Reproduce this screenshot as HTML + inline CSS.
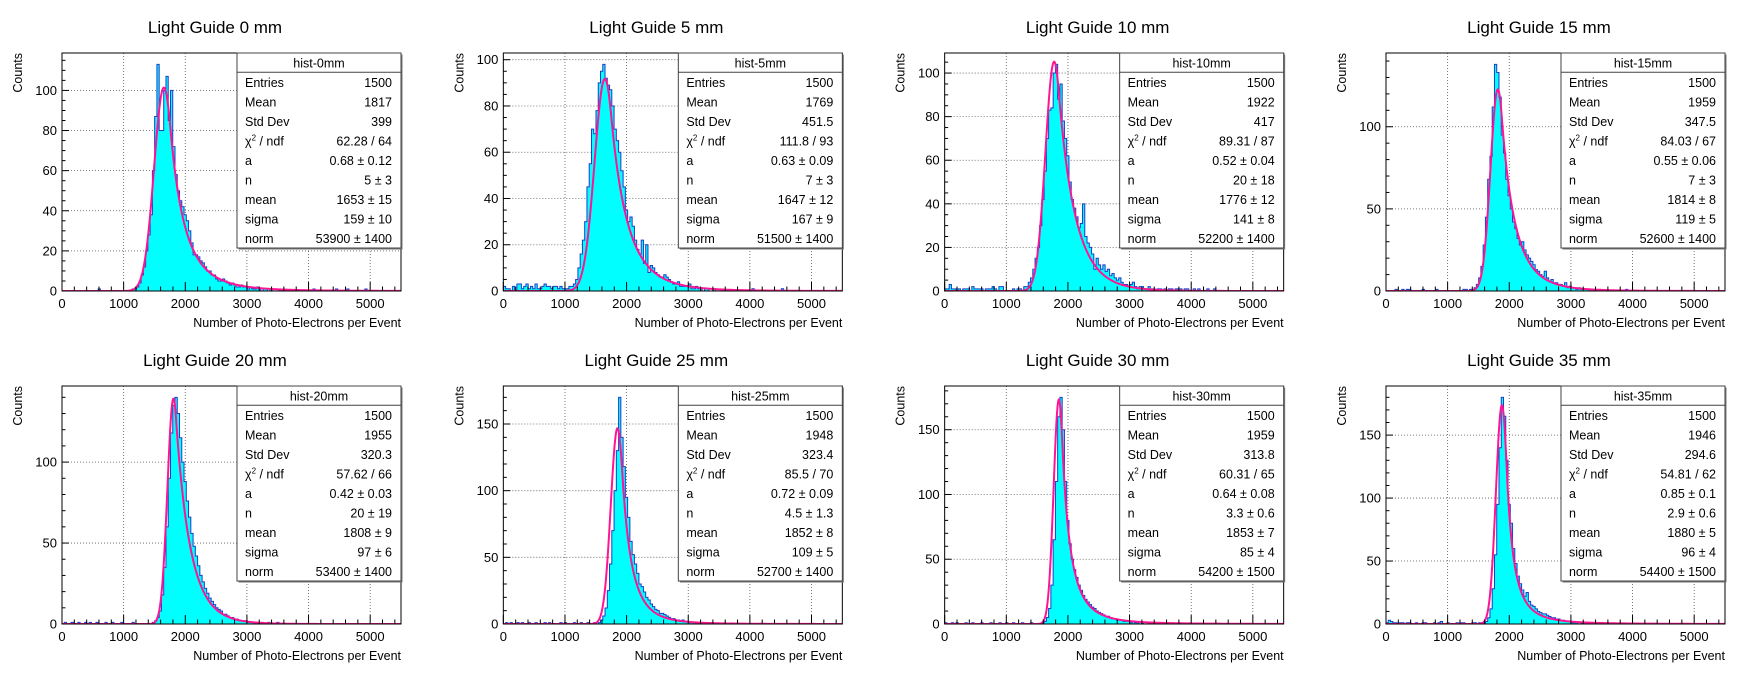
<!DOCTYPE html>
<html><head><meta charset="utf-8">
<style>
html,body{margin:0;padding:0;background:#fff;}
svg{display:block;font-family:"Liberation Sans",Arial,sans-serif;}
</style></head>
<body>
<svg id="fig" width="1757" height="676" viewBox="0 0 1757 676" xmlns="http://www.w3.org/2000/svg"></svg>
<script>
// ---- data ----
const titles = ["Light Guide 0 mm","Light Guide 5 mm","Light Guide 10 mm","Light Guide 15 mm","Light Guide 20 mm","Light Guide 25 mm","Light Guide 30 mm","Light Guide 35 mm"];
const histNames = ["hist-0mm","hist-5mm","hist-10mm","hist-15mm","hist-20mm","hist-25mm","hist-30mm","hist-35mm"];
const statEntries = ["1500","1500","1500","1500","1500","1500","1500","1500"];
const statMean = ["1817","1769","1922","1959","1955","1948","1959","1946"];
const statStd = ["399","451.5","417","347.5","320.3","323.4","313.8","294.6"];
const statChi = ["62.28 / 64","111.8 / 93","89.31 / 87","84.03 / 67","57.62 / 66","85.5 / 70","60.31 / 65","54.81 / 62"];
const statA = ["0.68 ± 0.12","0.63 ± 0.09","0.52 ± 0.04","0.55 ± 0.06","0.42 ± 0.03","0.72 ± 0.09","0.64 ± 0.08","0.85 ± 0.1"];
const statN = ["5 ± 3","7 ± 3","20 ± 18","7 ± 3","20 ± 19","4.5 ± 1.3","3.3 ± 0.6","2.9 ± 0.6"];
const statMu = ["1653 ± 15","1647 ± 12","1776 ± 12","1814 ± 8","1808 ± 9","1852 ± 8","1853 ± 7","1880 ± 5"];
const statSig = ["159 ± 10","167 ± 9","141 ± 8","119 ± 5","97 ± 6","109 ± 5","85 ± 4","96 ± 4"];
const statNorm = ["53900 ± 1400","51500 ± 1400","52200 ± 1400","52600 ± 1400","53400 ± 1400","52700 ± 1400","54200 ± 1500","54400 ± 1500"];
// fit parameters (Crystal Ball, right tail)
const fitA = [0.68,0.63,0.52,0.55,0.42,0.72,0.64,0.85];
const fitN = [5,7,20,7,20,4.5,3.3,2.9];
const fitMean = [1653,1647,1776,1814,1808,1852,1853,1880];
const fitSigma = [159,167,141,119,97,109,85,96];
const fitNorm = [53900,51500,52200,52600,53400,52700,54200,54400];
// histogram: 150 bins over 0..5500; counts start at a bin index
const xMax = 5500, nBins = 150;
const start0 = 0;
const counts0 = [0,0,0,0,0,0,0,0,0,0,0,0,0,0,0,0,1,0,0,0,0,0,0,0,0,0,0,0,0,0,0,1,1,2,4,8,12,20,28,38,60,87,113,80,80,100,107,85,100,72,58,50,45,42,38,35,30,24,18,18,17,15,14,12,10,10,8,8,6,5,5,6,5,4,3,4,3,2,2,3,2,2,1,2,1,1,2,1,0,1,1,0,1,0,0,0,1,0,0,0,0,0,0,0,0,0,0,0,0,0,0,1,0,0,0,0,0,0,0,0,0,1,0,0,0,0,1,0,0,0,0,0,0,0,1,0];
const start1 = 0;
const counts1 = [2,1,1,0,2,0,3,3,1,2,3,1,2,1,3,1,1,2,3,2,2,1,2,2,1,2,1,1,1,2,2,3,5,10,16,22,30,45,55,70,68,78,90,95,98,92,89,87,80,70,65,60,52,45,35,30,32,28,22,18,16,22,12,20,8,11,10,8,7,6,6,7,6,5,4,3,3,4,2,2,2,2,3,1,1,2,1,1,0,1,1,0,0,1,0,0,0,0,0,0,0,0,0,0,0,0,0,0,0,0,1,0,0,0,0,0,0,0,0,0,0,0,0,1,0];
const start2 = 0;
const counts2 = [1,1,3,1,1,0,1,0,1,1,1,0,2,1,1,1,1,0,1,1,1,2,1,0,2,2,0,0,0,0,1,0,1,1,0,2,2,4,6,10,15,20,30,42,55,70,83,84,100,104,88,95,78,70,62,50,42,38,34,29,31,40,25,22,20,17,10,15,12,10,12,9,10,7,8,6,5,6,4,3,3,2,3,4,2,1,2,2,1,1,2,1,1,0,1,1,0,1,0,1,1,0,1,1,1,0,1,1,0,0,1,0,1,0,0,0,1,0,0,1];
const start3 = 0;
const counts3 = [0,0,0,0,1,0,0,1,0,1,1,0,0,0,0,0,1,0,0,0,0,0,1,0,0,0,0,0,0,0,0,0,0,0,1,1,0,1,1,2,4,8,15,28,45,68,82,112,138,133,118,95,84,68,58,50,42,38,32,28,30,25,22,20,18,16,13,12,10,9,12,8,6,7,5,5,4,4,3,5,2,3,2,2,1,2,1,1,1,1,0,1,0,0,1,0,0,0,0,0,0,0,0,0,0,0,1];
const start4 = 0;
const counts4 = [0,1,0,0,1,0,0,1,0,0,1,0,1,0,0,1,0,0,0,1,0,0,1,0,0,0,1,0,0,0,0,1,0,0,0,0,0,0,0,0,1,2,4,8,18,35,60,90,118,135,140,130,115,100,88,76,66,56,48,42,36,30,26,22,19,16,14,12,10,9,8,6,6,5,4,4,3,3,2,2,2,2,1,1,1,0,1,0,1,0,0,1,0,0,0,1];
const start5 = 0;
const counts5 = [0,1,0,1,0,0,1,0,1,0,0,1,0,0,1,0,0,0,1,0,1,0,0,0,0,1,0,1,0,0,0,1,0,0,1,0,0,1,0,0,1,0,1,3,6,12,25,45,70,100,130,170,140,118,95,80,62,52,45,38,30,28,24,20,18,15,13,11,10,8,8,7,6,5,4,4,3,3,2,3,2,2,1,1,1,0,1,0,0,1,0,0,1];
const start6 = 0;
const counts6 = [1,0,0,1,0,1,0,0,0,1,0,0,1,0,0,0,1,0,0,0,1,0,0,0,1,0,0,1,0,0,1,0,0,0,1,0,0,0,1,0,0,0,0,1,2,5,12,30,65,110,160,175,150,110,80,62,50,42,36,30,26,22,19,17,15,13,12,10,9,8,7,6,6,5,4,4,3,3,3,2,2,2,1,2,1,1,0,1,0,0,1];
const start7 = 0;
const counts7 = [1,3,2,1,1,0,1,1,0,1,1,0,0,1,0,0,1,1,0,0,0,1,0,1,2,0,0,1,0,0,0,1,0,1,1,0,0,0,1,1,0,1,1,0,2,5,12,28,55,95,140,180,165,130,95,80,60,48,38,32,27,22,25,18,15,14,12,10,9,8,8,7,6,5,5,4,4,3,3,2,2,2,1,1,1,0,1,0,1];
const allCounts = [counts0,counts1,counts2,counts3,counts4,counts5,counts6,counts7];
const allStarts = [start0,start1,start2,start3,start4,start5,start6,start7];

// ---- drawing ----
const NS = "http://www.w3.org/2000/svg";
const svg = document.getElementById("fig");
function mk(tag, attrs, parent){ const e=document.createElementNS(NS,tag); for(const k in attrs) e.setAttribute(k,attrs[k]); (parent||svg).appendChild(e); return e; }
function erf(x){const s=x<0?-1:1;x=Math.abs(x);const t=1/(1+0.3275911*x);const y=1-(((((1.061405429*t-1.453152027)*t)+1.421413741)*t-0.284496736)*t+0.254829592)*t*Math.exp(-x*x);return s*y;}
const FW=339, FH=238;

for(let p=0;p<8;p++){
  const c=p%4, r=Math.floor(p/4);
  const fx=62+441.33*c, fy=53+333*r;
  const g=mk("g",{});
  
  
  const counts=allCounts[p], st=allStarts[p];
  const bins=new Array(nBins).fill(0);
  counts.forEach((v,i)=>{ if(st+i<nBins) bins[st+i]=v; });
  const maxC=Math.max(...bins);
  const yMax=maxC*1.05;
  const xs=v=>fx+v/xMax*FW;
  const ys=v=>fy+FH-v/yMax*FH;
  // title
  const t=mk("text",{x:fx+153,y:fy-20,"text-anchor":"middle","font-size":"17"},g);
  t.textContent=titles[p];
  
  
  // clip
  const cp=mk("clipPath",{id:"cp"+p},g); mk("rect",{x:fx,y:fy,width:FW,height:FH},cp);
  // grid
  const yStep = yMax<125?20:50, yMinor = yStep===20?5:10;
  for(let v=1000; v<xMax; v+=1000){ const gl=mk("line",{x1:xs(v),x2:xs(v),y1:fy,y2:fy+FH,stroke:"#555","stroke-width":"0.8","stroke-dasharray":"1,2"},g);   }
  for(let v=yStep; v<yMax; v+=yStep){ const gl=mk("line",{x1:fx,x2:fx+FW,y1:ys(v),y2:ys(v),stroke:"#555","stroke-width":"0.8","stroke-dasharray":"1,2"},g);   }
  // histogram
  let d="M"+xs(0)+","+ys(0);
  const bw=xMax/nBins;
  for(let i=0;i<nBins;i++){ d+=" L"+xs(i*bw).toFixed(2)+","+ys(bins[i]).toFixed(2)+" L"+xs((i+1)*bw).toFixed(2)+","+ys(bins[i]).toFixed(2); }
  d+=" L"+xs(xMax)+","+ys(0)+" Z";
  const h=mk("path",{d:d,fill:"#00ffff",stroke:"#1e3cc8","stroke-width":"1","clip-path":"url(#cp"+p+")"},g);
  
  
  // fit curve
  const a=fitA[p], n=fitN[p], mu=fitMean[p], sg=fitSigma[p];
  const A=Math.pow(n/a,n)*Math.exp(-a*a/2), B=n/a-a;
  const shape=tt=> tt<a ? Math.exp(-tt*tt/2) : A*Math.pow(B+tt,-n);
  const integ = sg*(Math.sqrt(2*Math.PI)*0.5*(1+erf(a/Math.SQRT2)) + (n/a)*Math.exp(-a*a/2)/(n-1));
  let fd="";
  for(let k=0;k<=1100;k++){ const x=k*xMax/1100; const y=fitNorm[p]*shape((x-mu)/sg)/integ; fd+=(k?" L":"M")+xs(x).toFixed(2)+","+ys(y).toFixed(2); }
  const f=mk("path",{d:fd,fill:"none",stroke:"#ff1493","stroke-width":"2","clip-path":"url(#cp"+p+")"},g);
  
  
  // frame
  const fr=mk("rect",{x:fx,y:fy,width:FW,height:FH,fill:"none",stroke:"#000","stroke-width":"1"},g);
  
  
  // x ticks
  for(let v=0; v<=xMax; v+=200){ const maj=v%1000===0; mk("line",{x1:xs(v),x2:xs(v),y1:fy+FH,y2:fy+FH-(maj?9:4.5),stroke:"#000","stroke-width":"1"},g);
    if(maj){ const tl=mk("text",{x:xs(v),y:fy+FH+17,"text-anchor":"middle","font-size":"13"},g); tl.textContent=v;   } }
  // y ticks
  for(let v=0; v<=yMax; v+=yMinor){ const maj=v%yStep===0; mk("line",{x1:fx,x2:fx+(maj?7:3.5),y1:ys(v),y2:ys(v),stroke:"#000","stroke-width":"1"},g);
    if(maj){ const tl=mk("text",{x:fx-5,y:ys(v)+4.5,"text-anchor":"end","font-size":"13"},g); tl.textContent=v;   } }
  // axis titles
  const xt=mk("text",{x:fx+FW,y:fy+FH+36,"text-anchor":"end","font-size":"12.5"},g); xt.textContent="Number of Photo-Electrons per Event";
   
  const yt=mk("text",{x:0,y:0,"text-anchor":"end","font-size":"12.5",transform:"translate("+(fx-40)+","+fy+") rotate(-90)"},g); yt.textContent="Counts";
   
  // stats box
  const bx=fx+175, bwid=FW-175, bh=195;
  const sb=mk("g",{},g);  
  mk("rect",{x:bx+1.5,y:fy+1.5,width:bwid,height:bh,fill:"#777"},sb);
  mk("rect",{x:bx,y:fy,width:bwid,height:bh,fill:"#fff",stroke:"#444","stroke-width":"1"},sb);
  mk("line",{x1:bx,x2:bx+bwid,y1:fy+19.3,y2:fy+19.3,stroke:"#444","stroke-width":"1"},sb);
  const hn=mk("text",{x:bx+bwid/2,y:fy+14.5,"text-anchor":"middle","font-size":"12.5"},sb); hn.textContent=histNames[p];
   
  const labels=["Entries","Mean","Std Dev","CHI","a","n","mean","sigma","norm"];
  const vals=[statEntries[p],statMean[p],statStd[p],statChi[p],statA[p],statN[p],statMu[p],statSig[p],statNorm[p]];
  for(let k=0;k<9;k++){
    const yy=fy+29.7+19.45*k+4.5;
    const lt=mk("text",{x:bx+8,y:yy,"font-size":"12.5"},sb);
    if(labels[k]==="CHI"){ lt.textContent="χ"; const sp=mk("tspan",{dy:"-5","font-size":"8"},lt); sp.textContent="2"; const sp2=mk("tspan",{dy:"5"},lt); sp2.textContent=" / ndf"; }
    else lt.textContent=labels[k];
     
    const vt=mk("text",{x:bx+bwid-9,y:yy,"text-anchor":"end","font-size":"12.5"},sb); vt.textContent=vals[k];
     
  }
}
</script>
</body></html>
